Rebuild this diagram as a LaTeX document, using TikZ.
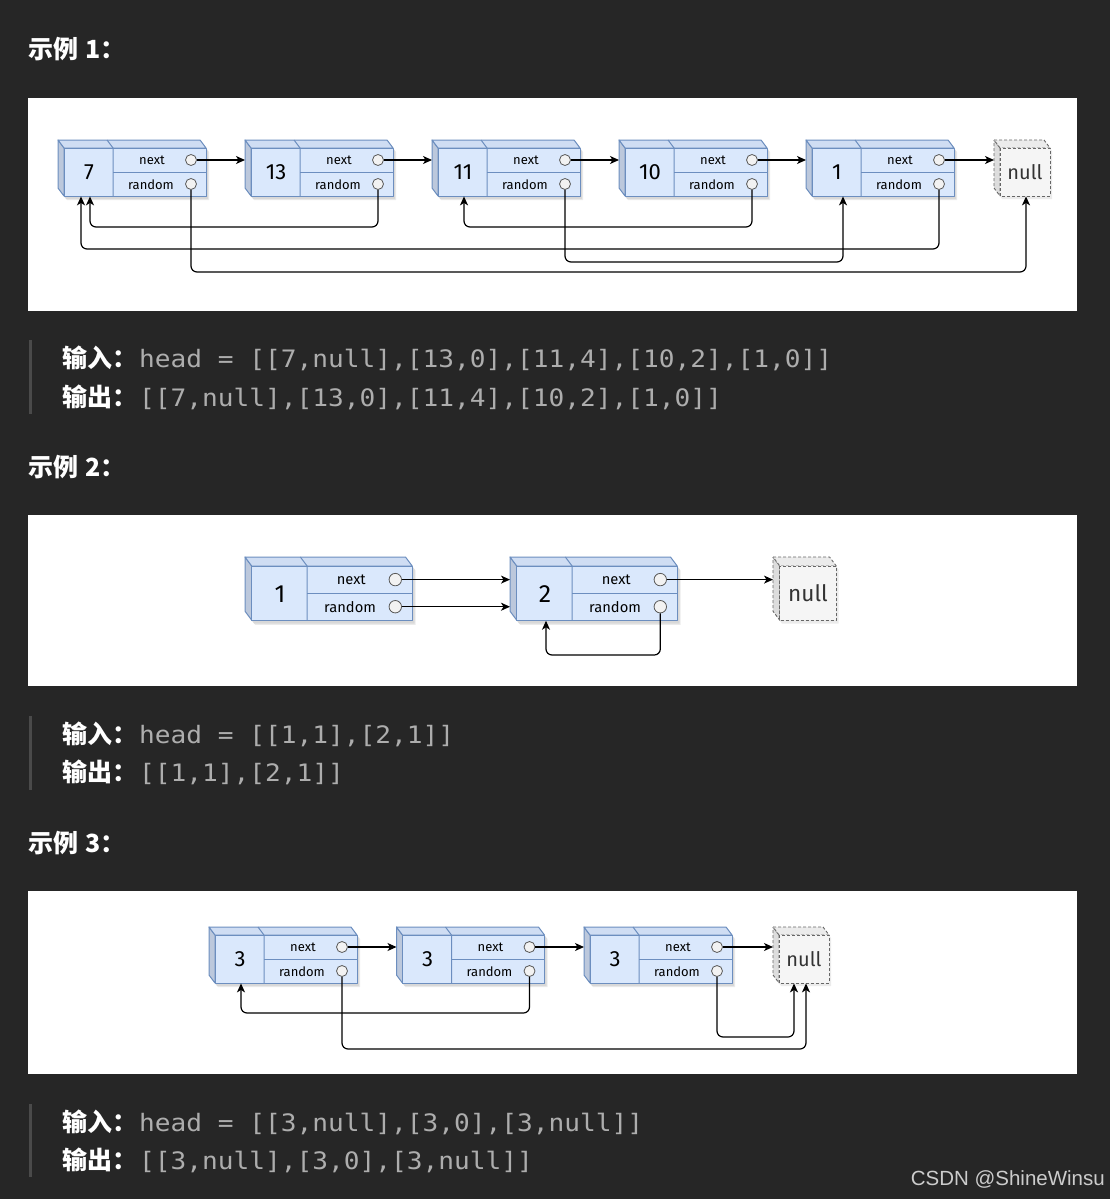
\documentclass[tikz,border=0pt]{standalone}
\usepackage{fontspec}
\setmainfont{Liberation Sans}
\newfontfamily\cjk{Noto Sans CJK SC}
\newfontfamily\codefont{DejaVu Sans Mono}[FakeStretch=1.09]
\newfontfamily\boxfont{Fira Sans}
\newfontfamily\wmfont{Liberation Sans}
\usetikzlibrary{arrows.meta}
\definecolor{bg}{HTML}{262626}
\definecolor{boxfill}{HTML}{DAE8FC}
\definecolor{boxtop}{HTML}{CFDDF3}
\definecolor{boxside}{HTML}{BCC8DC}
\definecolor{boxline}{HTML}{6C8EBF}
\definecolor{nullfill}{HTML}{F5F5F5}
\definecolor{nullside}{HTML}{DDDDDD}
\definecolor{nulltop}{HTML}{EBEBEB}
\definecolor{nullline}{HTML}{666666}
\definecolor{codegray}{HTML}{ADADAD}
\definecolor{barcol}{HTML}{4A4A4A}
\definecolor{wmcol}{HTML}{CCCCCC}
\tikzset{
  conn/.style={draw=black, line width=1.2pt, rounded corners=6pt,
    -{Stealth[length=9pt,width=8pt,inset=2.5pt]}},
  dotc/.style={circle, draw=black!65, fill=black!5, line width=0.8pt,
    minimum size=11pt, inner sep=0pt},
  boxedge/.style={draw=boxline, line width=1pt, line join=round},
  nulledge/.style={draw=nullline, line width=0.9pt, dash pattern=on 3pt off 2pt, line join=round},
  valtxt/.style={inner sep=0pt, font=\boxfont\fontsize{22}{22}\selectfont},
  fldtxt/.style={inner sep=0pt, font=\boxfont\fontsize{13}{13}\selectfont},
  nulltxt/.style={inner sep=0pt, font=\boxfont\fontsize{20}{20}\selectfont, text=black!80},
  cover/.style={inner sep=0pt, minimum width=#1, minimum height=56pt, anchor=north west},
  headtxt/.style={anchor=base west, inner sep=0pt, text=white,
    font=\cjk\bfseries\fontsize{25}{25}\selectfont},
  qline/.style={anchor=base west, inner sep=0pt},
  quotebar/.style={draw=barcol, line width=3pt},
  panel/.style={fill=white}
}
% list node: #1 name, #2 value, #3 x, #4 y, #5 scale
\newcommand\listbox[5]{%
  \begin{scope}[shift={(#3,#4)}, scale=#5, transform shape]
    \fill[black, opacity=0.08] (2,3) -- (144,3) -- (150,11) -- (150,59) -- (8,59) -- (2,51) -- cycle;
    \fill[black, opacity=0.08] (3,4) -- (145,4) -- (151,12) -- (151,60) -- (9,60) -- (3,52) -- cycle;
    \filldraw[boxedge, fill=boxside] (0,0) -- (6,8) -- (6,56) -- (0,48) -- cycle;
    \filldraw[boxedge, fill=boxtop] (0,0) -- (142,0) -- (148,8) -- (6,8) -- cycle;
    \filldraw[boxedge, fill=boxfill] (6,8) rectangle (148,56);
    \draw[boxedge] (49,0) -- (55,8) -- (55,56);
    \draw[boxedge] (55,32) -- (148,32);
    \node[cover=148pt] (#1) at (0,0) {};
    \node[valtxt] (#1v) at (31,32.5) {#2};
    \node[fldtxt] (#1nl) at (94,20.5) {next};
    \node[fldtxt] (#1rl) at (93,44.5) {random};
    \node[dotc] (#1n) at (133,20) {};
    \node[dotc] (#1r) at (133,44) {};
  \end{scope}}
% null node: #1 name, #2 x, #3 y, #4 scale
\newcommand\nullbox[4]{%
  \begin{scope}[shift={(#2,#3)}, scale=#4, transform shape]
    \fill[black, opacity=0.08] (2,3) -- (52,3) -- (58,11) -- (58,59) -- (8,59) -- (2,51) -- cycle;
    \filldraw[nulledge, fill=nullside] (0,0) -- (6,8) -- (6,56) -- (0,48) -- cycle;
    \filldraw[nulledge, fill=nulltop] (0,0) -- (50,0) -- (56,8) -- (6,8) -- cycle;
    \filldraw[nulledge, fill=nullfill] (6,8) rectangle (56,56);
    \node[cover=56pt] (#1) at (0,0) {};
    \node[nulltxt] (#1t) at (31,32) {null};
  \end{scope}}
\begin{document}
\begin{tikzpicture}[x=1pt, y=-1pt]
\useasboundingbox (0,0) rectangle (1110,1199);
\fill[bg] (0,0) rectangle (1110,1199);

% ---------- Example 1 ----------
\node[headtxt] (h1) at (28,59) {示例\hspace{0.3em}1：};
\fill[panel] (28,98) rectangle (1077,311);
\listbox{a1}{7}{58}{140}{1}
\listbox{a2}{13}{245}{140}{1}
\listbox{a3}{11}{432}{140}{1}
\listbox{a4}{10}{619}{140}{1}
\listbox{a5}{1}{806}{140}{1}
\nullbox{anull}{994}{140}{1}
\draw[conn] (a1n.east) -- (a2.west |- a1n);
\draw[conn] (a2n.east) -- (a3.west |- a2n);
\draw[conn] (a3n.east) -- (a4.west |- a3n);
\draw[conn] (a4n.east) -- (a5.west |- a4n);
\draw[conn] (a5n.east) -- (anull.west |- a5n);
\coordinate (ta1) at ([xshift=32pt]anull.south west);
\coordinate (ta2) at ([xshift=32pt]a1.south west);
\coordinate (ta3) at ([xshift=37pt]a5.south west);
\coordinate (ta4) at ([xshift=32pt]a3.south west);
\coordinate (ta5) at ([xshift=23pt]a1.south west);
\draw[conn] (a1r.south) -- (a1r.south |- 0,272) -- (ta1 |- 0,272) -- (ta1);
\draw[conn] (a2r.south) -- (a2r.south |- 0,227) -- (ta2 |- 0,227) -- (ta2);
\draw[conn] (a3r.south) -- (a3r.south |- 0,262) -- (ta3 |- 0,262) -- (ta3);
\draw[conn] (a4r.south) -- (a4r.south |- 0,227) -- (ta4 |- 0,227) -- (ta4);
\draw[conn] (a5r.south) -- (a5r.south |- 0,249) -- (ta5 |- 0,249) -- (ta5);

\draw[quotebar] (30,340) -- (30,414);
\node[qline] (in1) at (62,367) {\textcolor{white}{\cjk\bfseries\fontsize{25}{25}\selectfont 输入：}\kern2pt\textcolor{codegray}{\codefont\fontsize{24}{24}\selectfont head = [[7,null],[13,0],[11,4],[10,2],[1,0]]}};
\node[qline] (out1) at (62,406) {\textcolor{white}{\cjk\bfseries\fontsize{25}{25}\selectfont 输出：}\kern2pt\textcolor{codegray}{\codefont\fontsize{24}{24}\selectfont [[7,null],[13,0],[11,4],[10,2],[1,0]]}};

% ---------- Example 2 ----------
\node[headtxt] (h2) at (28,476) {示例\hspace{0.3em}2：};
\fill[panel] (28,515) rectangle (1077,686);
\listbox{b1}{1}{245}{557}{1.13}
\listbox{b2}{2}{510}{557}{1.13}
\nullbox{bnull}{773}{557}{1.13}
\draw[conn] (b1n.east) -- (b2.west |- b1n);
\draw[conn] (b1r.east) -- (b2.west |- b1r);
\draw[conn] (b2n.east) -- (bnull.west |- b2n);
\coordinate (tb1) at ([xshift=36pt]b2.south west);
\draw[conn] (b2r.south) -- (b2r.south |- 0,655) -- (tb1 |- 0,655) -- (tb1);

\draw[quotebar] (30,716) -- (30,790);
\node[qline] (in2) at (62,743) {\textcolor{white}{\cjk\bfseries\fontsize{25}{25}\selectfont 输入：}\kern2pt\textcolor{codegray}{\codefont\fontsize{24}{24}\selectfont head = [[1,1],[2,1]]}};
\node[qline] (out2) at (62,781) {\textcolor{white}{\cjk\bfseries\fontsize{25}{25}\selectfont 输出：}\kern2pt\textcolor{codegray}{\codefont\fontsize{24}{24}\selectfont [[1,1],[2,1]]}};

% ---------- Example 3 ----------
\node[headtxt] (h3) at (28,852) {示例\hspace{0.3em}3：};
\fill[panel] (28,891) rectangle (1077,1074);
\listbox{c1}{3}{209}{927}{1}
\listbox{c2}{3}{396.5}{927}{1}
\listbox{c3}{3}{584}{927}{1}
\nullbox{cnull}{773}{927}{1}
\draw[conn] (c1n.east) -- (c2.west |- c1n);
\draw[conn] (c2n.east) -- (c3.west |- c2n);
\draw[conn] (c3n.east) -- (cnull.west |- c3n);
\coordinate (tc1) at ([xshift=33pt]cnull.south west);
\coordinate (tc2) at ([xshift=32pt]c1.south west);
\coordinate (tc3) at ([xshift=21pt]cnull.south west);
\draw[conn] (c1r.south) -- (c1r.south |- 0,1049) -- (tc1 |- 0,1049) -- (tc1);
\draw[conn] (c2r.south) -- (c2r.south |- 0,1013) -- (tc2 |- 0,1013) -- (tc2);
\draw[conn] (c3r.south) -- (c3r.south |- 0,1037) -- (tc3 |- 0,1037) -- (tc3);

\draw[quotebar] (30,1104) -- (30,1177);
\node[qline] (in3) at (62,1131) {\textcolor{white}{\cjk\bfseries\fontsize{25}{25}\selectfont 输入：}\kern2pt\textcolor{codegray}{\codefont\fontsize{24}{24}\selectfont head = [[3,null],[3,0],[3,null]]}};
\node[qline] (out3) at (62,1169) {\textcolor{white}{\cjk\bfseries\fontsize{25}{25}\selectfont 输出：}\kern2pt\textcolor{codegray}{\codefont\fontsize{24}{24}\selectfont [[3,null],[3,0],[3,null]]}};

\node[anchor=base east, inner sep=0pt, text=wmcol, font=\wmfont\fontsize{20.5}{20.5}\selectfont] (wm) at (1105,1185) {CSDN @ShineWinsu};
\end{tikzpicture}
\end{document}
